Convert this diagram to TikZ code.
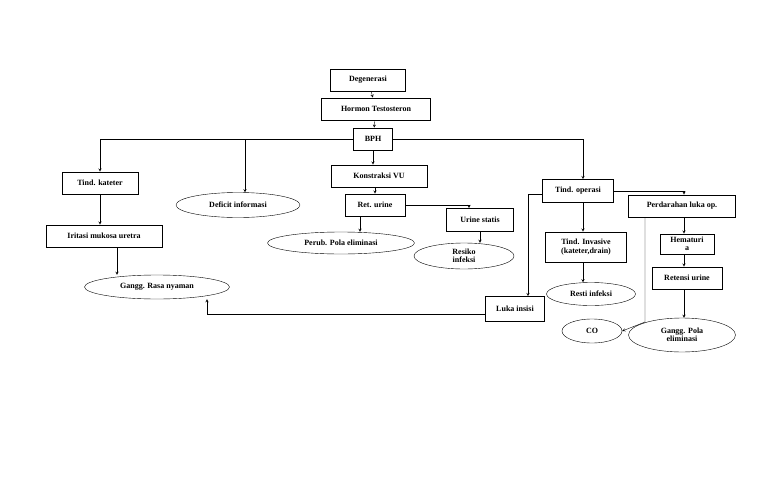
\documentclass[tikz,border=0pt]{standalone}
\usepackage{fontspec}
\setmainfont{Liberation Serif}
\usetikzlibrary{positioning,shapes.geometric}
\tikzset{
  kotak/.style={draw,thick,minimum height=22pt,inner sep=1pt,font=\fontsize{8}{8.5}\selectfont\bfseries,align=center},
  elips/.style={draw,ellipse,inner sep=0pt,font=\fontsize{8}{8.5}\selectfont\bfseries,align=center},
  panah/.style={->,>=stealth}
}
\begin{document}
\begin{tikzpicture}[x=1pt,y=-1pt]
        \useasboundingbox (0,0) rectangle (768,503);

        \node (Degen)    at (368,80)  [kotak,minimum width=75pt] {Degenerasi};
        \node (Hormon)   at (376,109) [kotak,minimum width=109pt] {Hormon Testosteron};
        \node (BPH)      at (373,139) [kotak,minimum width=39pt] {BPH};
        \node (Konstr)   at (379,176) [kotak,minimum width=96pt] {Konstraksi VU};
        \node (Returine) at (375,205) [kotak,minimum width=60pt] {Ret. urine};
        \node (Statis)   at (480,220) [kotak,minimum width=67pt,minimum height=23pt] {Urine statis};
        \node (Resiko)   at (464,256) [elips,minimum width=100pt,minimum height=26pt] {Resiko\\infeksi};
        \node (Perub)    at (341,243) [elips,minimum width=147pt,minimum height=22pt] {Perub. Pola eliminasi};

        \node (Kateter)  at (100,183) [kotak,minimum width=76pt] {Tind. kateter};
        \node (Deficit)  at (238,205) [elips,minimum width=124pt,minimum height=25pt] {Deficit informasi};
        \node (Iritasi)  at (104,236) [kotak,minimum width=116pt] {Iritasi mukosa uretra};
        \node (Rasa)     at (157,287) [elips,minimum width=145pt,minimum height=24pt] {Gangg. Rasa nyaman};

        \node (Operasi)  at (578,191) [kotak,minimum width=71pt,minimum height=23pt] {Tind. operasi};
        \node (Perdarah) at (682,206) [kotak,minimum width=107pt] {Perdarahan luka op.};
        \node (Invasive) at (586,247) [kotak,minimum width=81pt,minimum height=30pt] {Tind. Invasive\\(kateter,drain)};
        \node (Resti)    at (591,294) [elips,minimum width=89pt,minimum height=23pt] {Resti infeksi};
        \node (Hemat)    at (687,244) [kotak,minimum width=54pt,minimum height=20pt] {Hematuri\\a};
        \node (Retensi)  at (687,278) [kotak,minimum width=70pt] {Retensi urine};
        \node (Pola)     at (682,335) [elips,minimum width=107pt,minimum height=34pt] {Gangg. Pola\\eliminasi};
        \node (Luka)     at (515,309) [kotak,minimum width=59pt,minimum height=25pt] {Luka insisi};
        \node (CO)       at (592,331) [elips,minimum width=60pt,minimum height=24pt] {CO};

        % Vertical sequence arrows
        \draw[panah] (Degen) -- (Hormon);
        \draw[panah] (Hormon) -- (BPH);
        \draw[panah] (BPH) -- (BPH|-Konstr.north);
        \draw[panah] (Konstr) -- (Konstr.south-|Returine) -- (Returine);
        \draw[panah] (Statis) -- (Statis.south|-Resiko.north);
        \draw[panah] (Kateter) -- (Iritasi.north-|Kateter);
        \draw[panah] (Iritasi.south-|117,0) -- (117,0|-Rasa.north);
        \draw[panah] (Returine.south-|360,0) -- (360,0|-Perub.north);
        \draw[panah] (Operasi.south-|583,0) -- (583,0|-Invasive.north);
        \draw[panah] (Invasive.south-|583,0) -- (583,0|-Resti.north);
        \draw[panah] (Perdarah.south-|684,0) -- (684,0|-Hemat.north);
        \draw[panah] (Hemat.south-|684,0) -- (684,0|-Retensi.north);
        \draw[panah] (Retensi.south-|684,0) -- (684,0|-Pola.north);

        % Branch arrows
        \draw[panah] (BPH.west) -| (Kateter.north);
        \draw[panah] (245,0|-BPH.west) -- (245,0|-Deficit.north);
        \draw[panah] (BPH.east) -| (583,0|-Operasi.north);
        \draw[panah] (Returine.east) -| (469,0|-Statis.north);
        \draw[panah] (Operasi.east) -| (684,0|-Perdarah.north);
        \draw[panah] (Operasi.west|-0,194) -| (528,0|-Luka.north);
        \draw[panah] (Luka.west|-0,314) -| (207,0|-Rasa.south);
        \draw[panah] (645,0|-Perdarah.south) -- (645,322) -- (CO.east);
    \end{tikzpicture}
\end{document}
